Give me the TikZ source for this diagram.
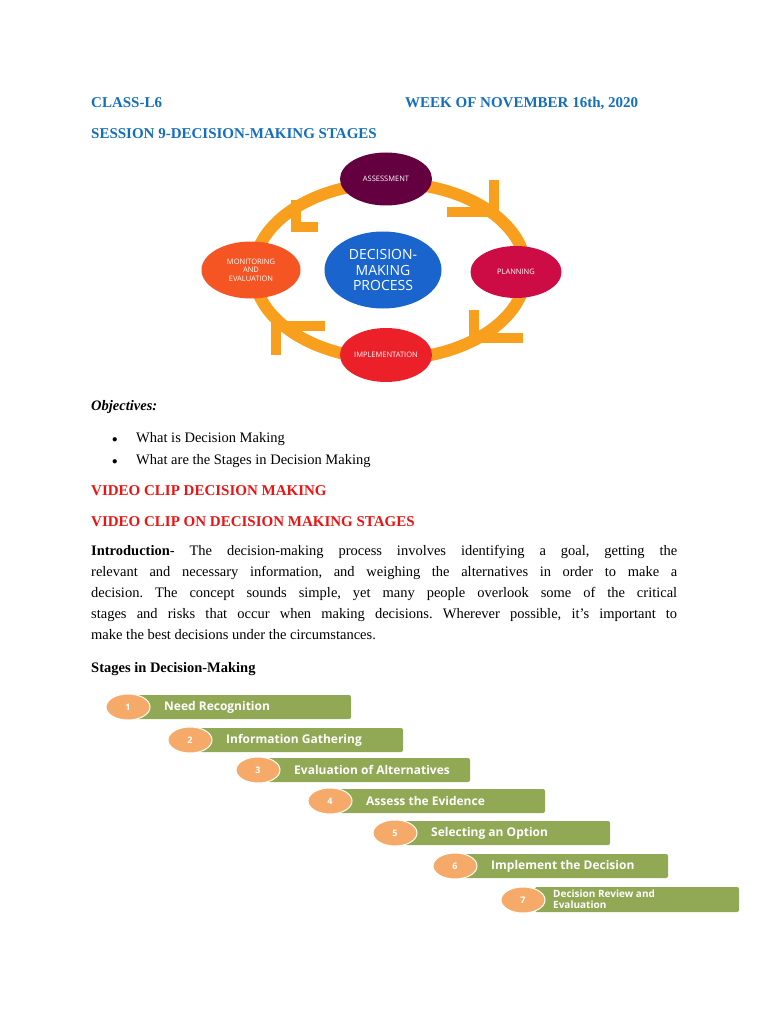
\documentclass[tikz,border=0pt]{standalone}
\usepackage{fontspec}
\setmainfont{Liberation Serif}
\newfontfamily\opens{Open Sans}
\usetikzlibrary{shapes.geometric}
\frenchspacing
\definecolor{hblue}{RGB}{20,110,190}
\definecolor{hred}{RGB}{235,20,20}
\definecolor{ring}{RGB}{248,160,30}
\definecolor{cpurple}{RGB}{100,0,64}
\definecolor{ccrim}{RGB}{205,12,70}
\definecolor{cred}{RGB}{236,32,40}
\definecolor{corange}{RGB}{245,85,35}
\definecolor{cblue}{RGB}{25,100,205}
\definecolor{sgreen}{RGB}{145,168,85}
\definecolor{sorange}{RGB}{246,170,105}
\begin{document}
\begin{tikzpicture}[x=1pt,y=-1pt,
  head/.style={font=\fontsize{15}{18}\selectfont\bfseries, text=hblue, anchor=base west, inner sep=0},
  redh/.style={font=\fontsize{15}{18}\selectfont\bfseries, text=hred, anchor=base west, inner sep=0},
  body/.style={font=\fontsize{14.5}{21}\selectfont\frenchspacing, anchor=base west, inner sep=0},
  stage/.style={ellipse, minimum width=44, minimum height=26, inner sep=0, text=white, font=\opens\fontsize{9}{9}\selectfont\bfseries},
  cyc/.style={ellipse, inner sep=0, text=white, font=\opens\fontsize{7.5}{8.5}\selectfont, align=center},
  chev/.style={draw=ring, line width=10, line cap=butt, line join=miter}]
\useasboundingbox (0,0) rectangle (768,1024);
\fill[white] (0,0) rectangle (768,1024);
\node[head] (cl) at (91,108) {CLASS-L6};
\node[head] (wk) at (405,108) {WEEK OF NOVEMBER 16th, 2020};
\node[head] (ss) at (91,139) {SESSION 9-DECISION-MAKING STAGES};
% cycle
\draw[ring, line width=12] (390,271) ellipse [x radius=136, y radius=88];
\draw[chev] (296,200) -- (296,227) -- (318,227);
\draw[chev] (494,180) -- (494,212) -- (447,212);
\draw[chev] (474,310) -- (474,338) -- (523,338);
\draw[chev] (325,326) -- (276,326) -- (276,355);
\node[cyc, fill=cpurple, minimum width=92, minimum height=53] (as) at (386,179) {ASSESSMENT};
\node[cyc, fill=ccrim, minimum width=91, minimum height=52] (pl) at (516,272) {PLANNING};
\node[cyc, fill=cred, minimum width=92, minimum height=54] (im) at (386,355) {IMPLEMENTATION};
\node[cyc, fill=corange, minimum width=99, minimum height=57] (mo) at (251,270) {MONITORING\\AND\\EVALUATION};
\node[cyc, fill=cblue, minimum width=117, minimum height=77, font=\opens\fontsize{14}{15.5}\selectfont] (ce) at (383,270) {DECISION-\\MAKING\\PROCESS};
% objectives
\node[body, font=\fontsize{14.5}{21}\selectfont\bfseries\itshape] (ob) at (91,410) {Objectives:};
\node[body, font=\fontsize{11}{11}\selectfont] (b1) at (112,442) {$\bullet$};
\node[body] (t1) at (136,442) {What is Decision Making};
\node[body, font=\fontsize{11}{11}\selectfont] (b2) at (112,464) {$\bullet$};
\node[body] (t2) at (136,464) {What are the Stages in Decision Making};
\node[redh] (v1) at (91,495) {VIDEO CLIP DECISION MAKING};
\node[redh] (v2) at (91,526) {VIDEO CLIP ON DECISION MAKING STAGES};
\node[body, text width=586, align=justify, anchor=north west] (intro) at (91,545) {\textbf{Introduction}- The decision-making process involves identifying a goal, getting the\linebreak relevant and necessary information, and weighing the alternatives in order to make a\linebreak decision. The concept sounds simple, yet many people overlook some of the critical\linebreak stages and risks that occur when making decisions. Wherever possible, it’s important to\linebreak make the best decisions under the circumstances.};
\node[body, font=\fontsize{14.5}{21}\selectfont\bfseries] (st) at (91,672) {Stages in Decision-Making};
% stages
\foreach \n/\cx/\bx/\ex/\y/\t in {1/128/133/351/707/Need Recognition, 2/190/200/403/740/Information Gathering, 3/258/268/470/770/Evaluation of Alternatives, 4/330/340/545/801/Assess the Evidence, 5/395/405/610/833/Selecting an Option, 6/455/462/668/866/Implement the Decision}{
  \fill[sgreen, rounded corners=2] (\bx,\y-12) rectangle (\ex,\y+12);
  \node[anchor=west, inner sep=0, text=white, font=\opens\fontsize{12}{13}\selectfont\bfseries] (lab\n) at (\cx+36,\y) {\t};
  \node[stage, fill=sorange, draw=white, line width=1] (c\n) at (\cx,\y) {\n};
}
\fill[sgreen, rounded corners=2] (535,887) rectangle (739,912);
\node[anchor=west, inner sep=0, text=white, align=left, font=\opens\fontsize{10}{11}\selectfont\bfseries] (lab7) at (553,899.5) {Decision Review and\\Evaluation};
\node[stage, fill=sorange, draw=white, line width=1] (c7) at (523,900) {7};
\end{tikzpicture}
\end{document}
